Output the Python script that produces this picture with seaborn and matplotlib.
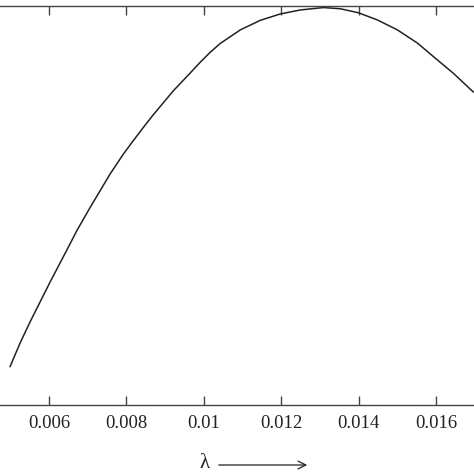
import numpy as np
import pandas as pd
import matplotlib
matplotlib.use("Agg")
import matplotlib.pyplot as plt
import seaborn as sns

# values (y in arbitrary units, axis unlabeled)
lam = [0.004991, 0.005250, 0.005508, 0.005767, 0.006026, 0.006285, 0.006543,
       0.006724, 0.007061, 0.007320, 0.007578, 0.007915, 0.008173, 0.008432,
       0.008691, 0.008950, 0.009208, 0.009648, 0.009907, 0.010166, 0.010424,
       0.010942, 0.011459, 0.011977, 0.012494, 0.013089, 0.013529, 0.013995,
       0.014486, 0.015004, 0.015521, 0.015935, 0.016453, 0.016970]
val = [0.096, 0.155, 0.208, 0.258, 0.308, 0.356, 0.404, 0.438, 0.495, 0.537,
       0.579, 0.628, 0.662, 0.695, 0.727, 0.757, 0.787, 0.832, 0.859, 0.884,
       0.906, 0.940, 0.964, 0.980, 0.990, 0.996, 0.993, 0.983, 0.965, 0.940,
       0.907, 0.873, 0.831, 0.784]
xticks = [0.006, 0.008, 0.01, 0.012, 0.014, 0.016]
xticklabels = ["0.006", "0.008", "0.01", "0.012", "0.014", "0.016"]

sns.set_style("ticks")
plt.rcParams['font.family'] = ['Liberation Serif', 'DejaVu Serif']

df = pd.DataFrame({"lam": lam, "val": val})

fig = plt.figure(figsize=(4.74, 4.74), dpi=100)
ax = fig.add_axes([0.0, 0.1456, 1.0, 0.8418])

sns.lineplot(data=df, x="lam", y="val", ax=ax, color="#222222", lw=1.1)

ax.set_xlim(0.004732, 0.016983)
ax.set_ylim(0.0, 1.0)
ax.set_xticks(xticks)
ax.set_xticklabels(xticklabels)
ax.set_yticks([])
ax.set_xlabel("")
ax.set_ylabel("")

ax.tick_params(axis="x", direction="in", length=6.5, width=1.0, color="#444444",
               top=True, bottom=True, labelsize=13.5, pad=7, labelcolor="#222222")
for s in ["left", "right"]:
    ax.spines[s].set_visible(False)
for s in ["top", "bottom"]:
    ax.spines[s].set_color("#444444")
    ax.spines[s].set_linewidth(1.0)

# axis label: lambda with a long arrow
fig.text(205 / 474, 1 - 473 / 474, "λ", ha="center", va="bottom", fontsize=15,
         color="#222222")
ax.annotate("", xy=(310 / 474, 1 - 465 / 474), xytext=(216 / 474, 1 - 465 / 474),
            xycoords="figure fraction", textcoords="figure fraction",
            arrowprops=dict(arrowstyle="->", color="#222222", lw=0.9,
                            mutation_scale=14))

fig.savefig("out.png", dpi=100)
